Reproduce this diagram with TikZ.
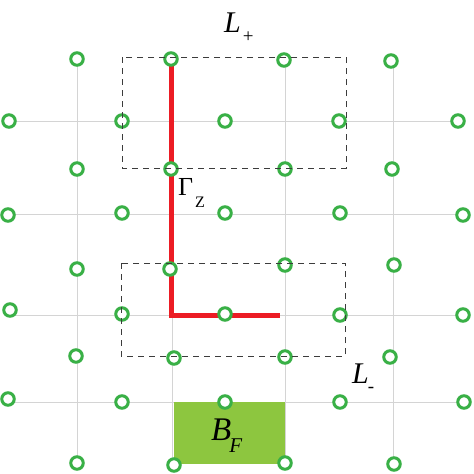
\documentclass[tikz,border=0pt]{standalone}
\usepackage{fontspec}
\setmainfont{Liberation Serif}
\definecolor{ringgreen}{RGB}{57,176,70}
\definecolor{boxgreen}{RGB}{141,198,63}
\definecolor{pathred}{RGB}{236,28,36}
\definecolor{gridgrey}{RGB}{212,212,212}
\definecolor{dashgrey}{RGB}{60,60,60}
\tikzset{
  qubit/.style={circle,draw=ringgreen,line width=3pt,fill=white,minimum size=12.5pt,inner sep=0pt},
  gridline/.style={draw=gridgrey,line width=1pt},
  regionbox/.style={draw=dashgrey,line width=0.9pt,dash pattern=on 6pt off 5pt},
  logical/.style={draw=pathred,line width=5pt},
  label/.style={inner sep=0pt,anchor=base west}
}
\begin{document}
\begin{tikzpicture}[x=1pt,y=-1pt]
\useasboundingbox[fill=white] (0,0) rectangle (474,474);
% grid end points
\coordinate (vAt) at (77,59);  \coordinate (vAb) at (77,463);
\coordinate (vBt) at (172,59); \coordinate (vBb) at (172,465);
\coordinate (vCt) at (285,60); \coordinate (vCb) at (285,463);
\coordinate (vDt) at (393,61); \coordinate (vDb) at (393,464);
\coordinate (hAl) at (9,121);  \coordinate (hAr) at (458,121);
\coordinate (hBl) at (8,214);  \coordinate (hBr) at (463,214);
\coordinate (hCl) at (10,315); \coordinate (hCr) at (463,315);
\coordinate (hDl) at (8,402);  \coordinate (hDr) at (464,402);
\foreach \a/\b in {vAt/vAb,vBt/vBb,vCt/vCb,vDt/vDb,hAl/hAr,hBl/hBr,hCl/hCr,hDl/hDr}
  \draw[gridline] (\a) -- (\b);
% plaquette B_F
\coordinate (bf1) at (174,402); \coordinate (bf2) at (285,464);
\fill[boxgreen] (bf1) rectangle (bf2);
% logical operator path
\coordinate (r1) at (171,63); \coordinate (r2) at (171,315); \coordinate (r3) at (280,315);
\draw[logical,line join=miter] (r1) -- (r2) -- (r3);
% qubits
\foreach \p [count=\i] in {
  (77,59),(171,59),(284,60),(391,61),
  (9,121),(122,121),(225,121),(339,121),(458,121),
  (77,169),(171,169),(285,169),(392,169),
  (8,215),(122,213),(225,213),(340,213),(463,215),
  (77,269),(170,269),(285,265),(394,265),
  (10,310),(122,314),(225,314),(340,315),(463,315),
  (76,356),(174,358),(285,357),(390,357),
  (8,399),(122,402),(225,402),(340,402),(464,402),
  (77,463),(174,465),(285,463),(394,464)}
  \node[qubit] (n\i) at \p {};
% dashed regions
\coordinate (tp1) at (122,57); \coordinate (tp2) at (346,168);
\coordinate (bt1) at (121,263); \coordinate (bt2) at (345,356);
\draw[regionbox] (tp1) rectangle (tp2);
\draw[regionbox] (bt1) rectangle (bt2);
% labels
\node[label] (lplus) at (224,32) {\fontsize{30}{30}\selectfont\textit{L}\kern2pt\raisebox{-10pt}{\fontsize{19}{19}\selectfont +}};
\node[label] (gz) at (178,195) {\fontsize{26}{26}\selectfont Γ\kern2pt\raisebox{-12pt}{\fontsize{16}{16}\selectfont Z}};
\node[label] (lminus) at (352,383) {\fontsize{30}{30}\selectfont\textit{L}\kern-1pt\raisebox{-9pt}{\fontsize{19}{19}\selectfont -}};
\node[label] (bf) at (211,440) {\fontsize{33}{33}\selectfont\textit{B}\kern-2pt\raisebox{-12pt}{\fontsize{21}{21}\selectfont\textit{F}}};
\end{tikzpicture}
\end{document}
